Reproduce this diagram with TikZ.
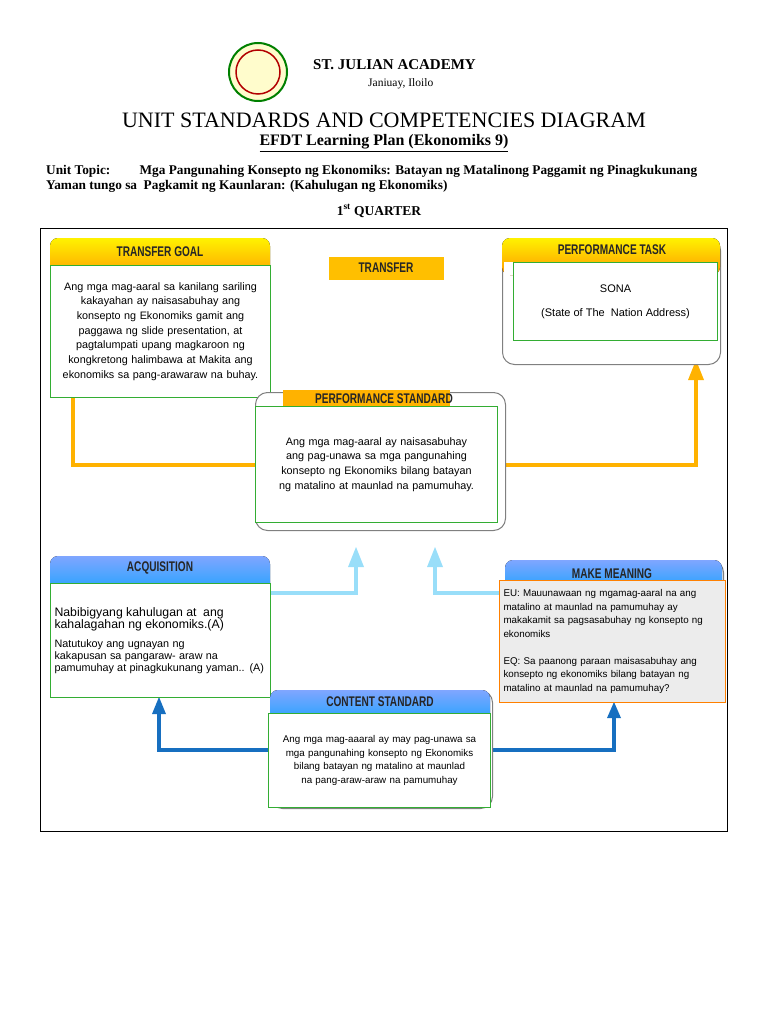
\documentclass[tikz,border=0pt]{standalone}
\usepackage{fontspec}
\setmainfont{Liberation Serif}
\setsansfont{Liberation Sans}
\hyphenpenalty=10000
\begin{document}
\begin{tikzpicture}[x=1pt,y=-1pt,
 txt/.style={font=\sffamily\fontsize{10.8}{14.7}\selectfont,align=center,text width=#1},
 gbox/.style={draw=green!60!black!80,line width=1pt,fill=white},
 otab/.style={rounded corners=8pt,top color=yellow!90!orange,bottom color=orange!80!yellow,draw=none},
 btab/.style={rounded corners=8pt,top color=cyan!30!blue!50,bottom color=cyan!60!blue!90,draw=none},
 hd/.style={font=\sffamily\bfseries\fontsize{14}{14}\selectfont,xscale=0.72,text=black!85},
 panel/.style={draw=gray,line width=1pt,rounded corners=12pt,fill=white},
 oarr/.style={draw=orange!60!yellow,line width=4pt},
 barr/.style={draw=cyan!50!blue,line width=4pt},
 carr/.style={draw=cyan!40,line width=4pt},
 tipo/.style={fill=orange!60!yellow,draw=none},
 tipb/.style={fill=cyan!50!blue,draw=none},
 tipc/.style={fill=cyan!40,draw=none}]
\useasboundingbox (0,0) rectangle (768,1024);
% header
\node (logo) [circle,draw=green!50!black,line width=2pt,fill=yellow!20,minimum size=58pt] at (258,72) {};
\node [circle,draw=red!70!black,line width=1.5pt,minimum size=44pt] at (258,72) {};
\node (sch) [font=\bfseries\fontsize{15}{16}\selectfont,anchor=west,inner sep=0] at (313,65) {ST. JULIAN ACADEMY};
\node (loc) [font=\fontsize{11.5}{12}\selectfont,anchor=west,inner sep=0] at (368,84) {Janiuay, Iloilo};
\node (t1) [font=\fontsize{22}{24}\selectfont] at (384,120) {UNIT STANDARDS AND COMPETENCIES DIAGRAM};
\node (t2) [font=\bfseries\fontsize{16}{18}\selectfont] at (384,143) {\underline{EFDT Learning Plan (Ekonomiks 9)}};
\node (ut) [font=\bfseries\fontsize{13.3}{15}\selectfont,anchor=north west,align=left,inner sep=0] at (46,165) {Unit Topic:\hspace{2.2em}Mga Pangunahing Konsepto ng Ekonomiks: Batayan ng Matalinong Paggamit ng Pinagkukunang\\Yaman tungo sa\ \ Pagkamit ng Kaunlaran: (Kahulugan ng Ekonomiks)};
\node (q) [font=\bfseries\fontsize{13.5}{14}\selectfont] at (379,211) {1\textsuperscript{st} QUARTER};
\draw[line width=1pt] (40,229) rectangle (727,831);
% orange arrows
\draw[oarr] (73,397) -- (73,465) -- (255,465);
\draw[oarr] (497,465) -- (696,465) -- (696,378);
\fill[tipo] (688,380) -- (704,380) -- (696,360) -- cycle;
% cyan arrows
\draw[carr] (270,593) -- (356,593) -- (356,565);
\fill[tipc] (348,567) -- (364,567) -- (356,547) -- cycle;
\draw[carr] (499,593) -- (435,593) -- (435,565);
\fill[tipc] (427,567) -- (443,567) -- (435,547) -- cycle;
% blue arrows
\draw[barr] (268,750) -- (159,750) -- (159,712);
\fill[tipb] (152,714) -- (166,714) -- (159,697) -- cycle;
\draw[barr] (490,750) -- (614,750) -- (614,716);
\fill[tipb] (607,718) -- (621,718) -- (614,702) -- cycle;
% transfer goal
\fill[otab] (50,238) rectangle (270,280);
\node[hd] at (160,252) {TRANSFER GOAL};
\node (tg) [gbox,minimum width=220pt,minimum height=132pt,anchor=north west,txt=210pt,inner sep=2pt] at (50,265) {Ang mga mag-aaral sa kanilang sariling kakayahan ay naisasabuhay ang konsepto ng Ekonomiks gamit ang paggawa ng slide presentation, at pagtalumpati upang magkaroon ng kongkretong halimbawa at Makita ang ekonomiks sa pang-arawaraw na buhay.};
% transfer label
\fill[orange!50!yellow] (329,257) rectangle (444,280);
\node (tr) [hd] at (386,268) {TRANSFER};
% performance task
\node[panel,minimum width=218pt,minimum height=126pt,anchor=north west] at (502,238) {};
\fill[otab] (502,238) rectangle (720,275);
\fill[white] (504,262) rectangle (718,275);
\node[hd] at (612,250) {PERFORMANCE TASK};
\node (pt) [gbox,minimum width=204pt,minimum height=78pt,anchor=north west,font=\sffamily\fontsize{11}{16}\selectfont,align=center] at (513,262) {SONA\\[8pt](State of The\ \ Nation Address)};
% performance standard
\node[panel,minimum width=250pt,minimum height=138pt,anchor=north west] at (255,392) {};
\fill[orange!60!yellow] (283,390) rectangle (450,408);
\node[hd] at (384,399) {PERFORMANCE STANDARD};
\node (ps) [gbox,minimum width=242pt,minimum height=116pt,anchor=north west,txt=236pt,inner sep=2pt] at (255,406) {Ang mga mag-aaral ay naisasabuhay ang pag-unawa sa mga pangunahing konsepto ng Ekonomiks bilang batayan ng matalino at maunlad na pamumuhay.};
% acquisition
\fill[btab] (50,556) rectangle (270,595);
\node[hd] at (160,568) {ACQUISITION};
\node (ac) [gbox,minimum width=220pt,minimum height=114pt,anchor=north west,align=left,text width=212pt,inner sep=3pt,font=\sffamily] at (50,583) {{\fontsize{12.3}{17}\selectfont Nabibigyang kahulugan at\ \ ang\\kahalagahan ng ekonomiks.(A)}\par\vspace{5pt}{\fontsize{10.8}{14.5}\selectfont Natutukoy ang ugnayan ng\\ kakapusan sa pangaraw- araw na pamumuhay at pinagkukunang yaman.. (A)}};
% make meaning
\node[panel,minimum width=218pt,minimum height=115pt,anchor=north west] at (505,560) {};
\fill[btab] (505,560) rectangle (722,592);
\node[hd] at (612,574) {MAKE MEANING};
\node (mm) [draw=orange,line width=1pt,fill=gray!15,minimum width=226pt,minimum height=122pt,anchor=north west,align=left,text width=218pt,inner sep=4pt,font=\sffamily\fontsize{9.8}{13.6}\selectfont] at (499,580) {EU: Mauunawaan ng mgamag-aaral na ang matalino at maunlad na pamumuhay ay makakamit sa pagsasabuhay ng konsepto ng ekonomiks\\[13pt]EQ: Sa paanong paraan maisasabuhay ang konsepto ng ekonomiks bilang batayan ng matalino at maunlad na pamumuhay?};
% content standard
\node[panel,minimum width=222pt,minimum height=118pt,anchor=north west] at (270,690) {};
\fill[btab] (270,690) rectangle (490,725);
\node[hd] at (380,702) {CONTENT STANDARD};
\node (cs) [gbox,minimum width=222pt,minimum height=94pt,anchor=north west,txt=195pt,font=\sffamily\fontsize{9.8}{13.5}\selectfont] at (268,713) {Ang mga mag-aaaral ay may pag-unawa sa mga pangunahing konsepto ng Ekonomiks bilang batayan ng matalino at maunlad na pang-araw-araw na pamumuhay};
\end{tikzpicture}
\end{document}
